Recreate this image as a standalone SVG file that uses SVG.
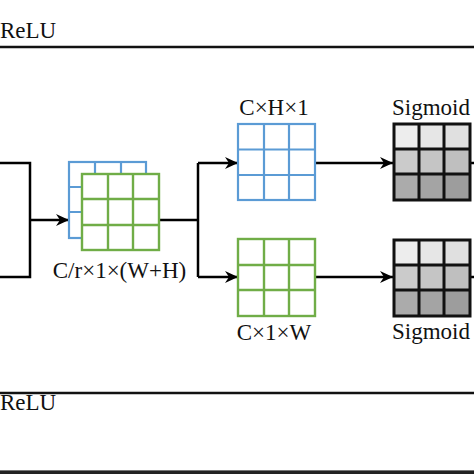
<svg xmlns="http://www.w3.org/2000/svg" width="474" height="474" viewBox="0 0 474 474">
<style>
text{font-family:"Liberation Serif","Times New Roman",serif;font-size:23px;fill:#111}
.blue{fill:#fff;stroke:#5b9bd5;stroke-width:2.2}
.green{fill:#fff;stroke:#70ad47;stroke-width:2.4}
.bl{stroke:#5b9bd5;stroke-width:2.2}
.gl{stroke:#70ad47;stroke-width:2.4}
.conn{fill:none;stroke:#000;stroke-width:2.5}
.sg{stroke:#111;stroke-width:3;fill:none}
.rule{stroke:#111;stroke-width:2.5}
</style>
<defs>
<marker id="ah" markerUnits="userSpaceOnUse" markerWidth="14" markerHeight="14" refX="13" refY="6" orient="auto">
<path d="M0,0 L13,6 L0,12 L4,6 z" fill="#000"/>
</marker>
</defs>
<rect width="474" height="474" fill="#fff"/>
<g id="relu-top">
<text x="0" y="38">ReLU</text>
<line class="rule" x1="0" y1="47" x2="474" y2="47"/>
</g>
<g id="relu-bottom">
<line class="rule" x1="0" y1="393" x2="474" y2="393"/>
<text x="0" y="410">ReLU</text>
<line x1="0" y1="470.5" x2="474" y2="470.5" stroke="#777" stroke-width="1"/>
<rect x="0" y="471" width="474" height="3" fill="#222"/>
</g>
<g id="connectors">
<path class="conn" d="M0,163 H30 V277 H0"/>
<line class="conn" x1="30" y1="220" x2="69" y2="220" marker-end="url(#ah)"/>
<path class="conn" d="M159,220 H198"/>
<path class="conn" d="M198,163 V277"/>
<line class="conn" x1="198" y1="163" x2="238" y2="163" marker-end="url(#ah)"/>
<line class="conn" x1="198" y1="277" x2="238" y2="277" marker-end="url(#ah)"/>
<line class="conn" x1="315" y1="163" x2="393" y2="163" marker-end="url(#ah)"/>
<line class="conn" x1="315" y1="277" x2="393" y2="277" marker-end="url(#ah)"/>
<line class="conn" x1="469" y1="163" x2="474" y2="163"/>
<line class="conn" x1="469" y1="277" x2="474" y2="277"/>
</g>
<g id="feature-cat">
<rect class="blue" x="69" y="162" width="77" height="76"/>
<line class="bl" x1="95" y1="162" x2="95" y2="238"/>
<line class="bl" x1="121" y1="162" x2="121" y2="238"/>
<line class="bl" x1="69" y1="187" x2="146" y2="187"/>
<line class="bl" x1="69" y1="212" x2="146" y2="212"/>
<rect class="green" x="82" y="174" width="77" height="76"/>
<line class="gl" x1="108" y1="174" x2="108" y2="250"/>
<line class="gl" x1="133" y1="174" x2="133" y2="250"/>
<line class="gl" x1="82" y1="199" x2="159" y2="199"/>
<line class="gl" x1="82" y1="225" x2="159" y2="225"/>
<text x="119.5" y="278" text-anchor="middle">C/r×1×(W+H)</text>
</g>
<g id="feature-h">
<text x="274" y="115" text-anchor="middle">C×H×1</text>
<rect class="blue" x="238" y="124" width="77" height="76"/>
<line class="bl" x1="264" y1="124" x2="264" y2="200"/>
<line class="bl" x1="289" y1="124" x2="289" y2="200"/>
<line class="bl" x1="238" y1="149.5" x2="315" y2="149.5"/>
<line class="bl" x1="238" y1="175" x2="315" y2="175"/>
</g>
<g id="feature-w">
<rect class="green" x="238" y="239" width="77" height="77"/>
<line class="gl" x1="264" y1="239" x2="264" y2="316"/>
<line class="gl" x1="289" y1="239" x2="289" y2="316"/>
<line class="gl" x1="238" y1="265" x2="315" y2="265"/>
<line class="gl" x1="238" y1="290" x2="315" y2="290"/>
<text x="274" y="340" text-anchor="middle">C×1×W</text>
</g>
<g id="sigmoid-h">
<text x="431" y="115" text-anchor="middle">Sigmoid</text>
<rect x="394" y="124" width="25" height="25" fill="#ededed"/>
<rect x="419" y="124" width="25" height="25" fill="#e6e6e6"/>
<rect x="444" y="124" width="26" height="25" fill="#e0e0e0"/>
<rect x="394" y="149" width="25" height="25" fill="#cbcbcb"/>
<rect x="419" y="149" width="25" height="25" fill="#c5c5c5"/>
<rect x="444" y="149" width="26" height="25" fill="#bfbfbf"/>
<rect x="394" y="174" width="25" height="26" fill="#ababab"/>
<rect x="419" y="174" width="25" height="26" fill="#a4a4a4"/>
<rect x="444" y="174" width="26" height="26" fill="#9d9d9d"/>
<rect class="sg" x="394" y="124" width="76" height="76"/>
<line class="sg" x1="419" y1="124" x2="419" y2="200"/>
<line class="sg" x1="444" y1="124" x2="444" y2="200"/>
<line class="sg" x1="394" y1="149" x2="470" y2="149"/>
<line class="sg" x1="394" y1="174" x2="470" y2="174"/>
</g>
<g id="sigmoid-w">
<rect x="394" y="240" width="25" height="25" fill="#ededed"/>
<rect x="419" y="240" width="25" height="25" fill="#e6e6e6"/>
<rect x="444" y="240" width="26" height="25" fill="#e0e0e0"/>
<rect x="394" y="265" width="25" height="25" fill="#cbcbcb"/>
<rect x="419" y="265" width="25" height="25" fill="#c5c5c5"/>
<rect x="444" y="265" width="26" height="25" fill="#bfbfbf"/>
<rect x="394" y="290" width="25" height="26" fill="#ababab"/>
<rect x="419" y="290" width="25" height="26" fill="#a4a4a4"/>
<rect x="444" y="290" width="26" height="26" fill="#9d9d9d"/>
<rect class="sg" x="394" y="240" width="76" height="76"/>
<line class="sg" x1="419" y1="240" x2="419" y2="316"/>
<line class="sg" x1="444" y1="240" x2="444" y2="316"/>
<line class="sg" x1="394" y1="265" x2="470" y2="265"/>
<line class="sg" x1="394" y1="290" x2="470" y2="290"/>
<text x="431" y="339" text-anchor="middle">Sigmoid</text>
</g>
</svg>
